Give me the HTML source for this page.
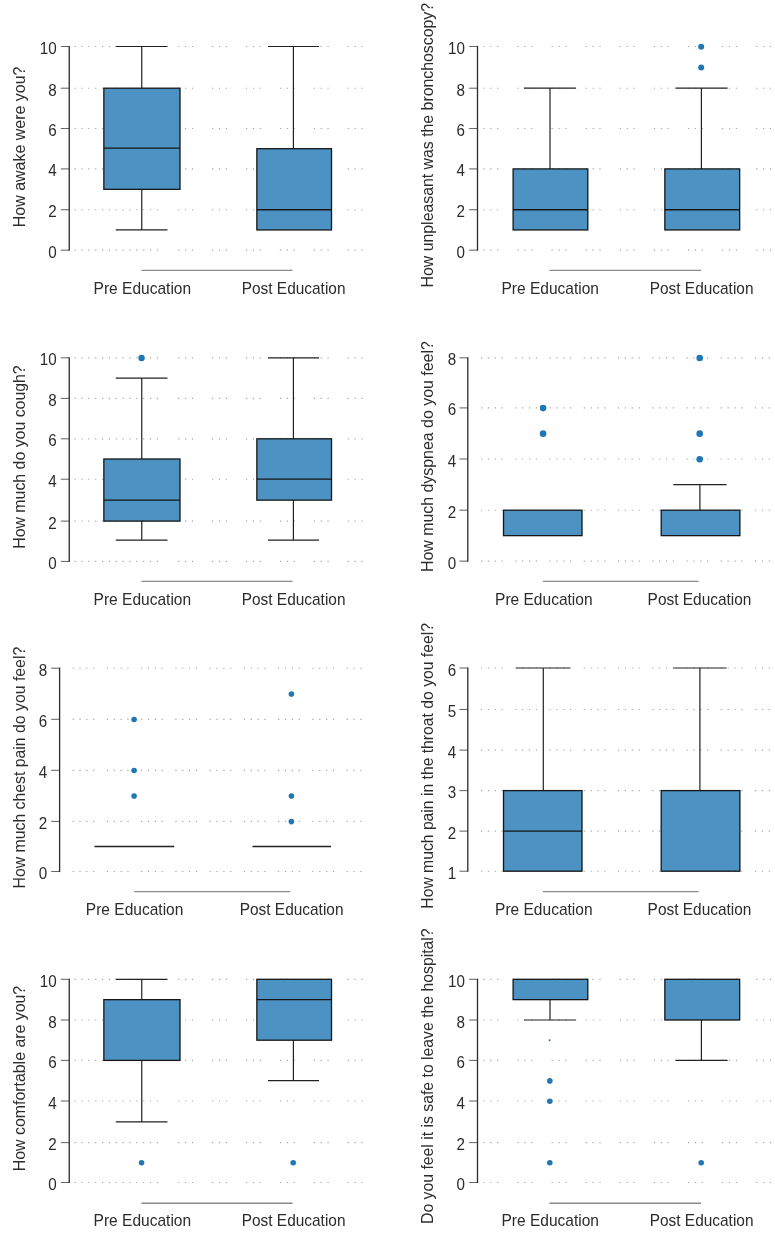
<!DOCTYPE html>
<html lang="en">
<head>
<meta charset="utf-8">
<title>Box plots: Pre Education vs Post Education</title>
<style>
html,body{margin:0;padding:0;background:#fff;}
body{width:775px;height:1239px;overflow:hidden;font-family:"Liberation Sans",Arial,sans-serif;}
svg{display:block;}
</style>
</head>
<body>
<svg width="775" height="1239" viewBox="0 0 775 1239" font-family="'Liberation Sans', Arial, sans-serif" font-size="17.0" fill="#2c2c2c">
<rect width="775" height="1239" fill="#fff"/>
<g>
<g stroke="#a2a2a2" stroke-width="1.15" fill="none">
<line x1="74.6" y1="250.15" x2="160" y2="250.15" stroke-dasharray="1.15 5.7"/>
<line x1="178.2" y1="250.15" x2="365" y2="250.15" stroke-dasharray="1.15 5.7 1.15 5.7 1.15 19.05"/>
<line x1="74.6" y1="209.75" x2="160" y2="209.75" stroke-dasharray="1.15 5.7"/>
<line x1="178.2" y1="209.75" x2="365" y2="209.75" stroke-dasharray="1.15 5.7 1.15 5.7 1.15 19.05"/>
<line x1="74.6" y1="168.9" x2="160" y2="168.9" stroke-dasharray="1.15 5.7"/>
<line x1="178.2" y1="168.9" x2="365" y2="168.9" stroke-dasharray="1.15 5.7 1.15 5.7 1.15 19.05"/>
<line x1="74.6" y1="128.5" x2="160" y2="128.5" stroke-dasharray="1.15 5.7"/>
<line x1="178.2" y1="128.5" x2="365" y2="128.5" stroke-dasharray="1.15 5.7 1.15 5.7 1.15 19.05"/>
<line x1="74.6" y1="88.2" x2="160" y2="88.2" stroke-dasharray="1.15 5.7"/>
<line x1="178.2" y1="88.2" x2="365" y2="88.2" stroke-dasharray="1.15 5.7 1.15 5.7 1.15 19.05"/>
<line x1="74.6" y1="46.5" x2="160" y2="46.5" stroke-dasharray="1.15 5.7"/>
<line x1="178.2" y1="46.5" x2="365" y2="46.5" stroke-dasharray="1.15 5.7 1.15 5.7 1.15 19.05"/>
</g>
<g stroke="#666" stroke-width="1.05" fill="none">
<line x1="60.85" y1="250.15" x2="69.25" y2="250.15"/>
<line x1="60.85" y1="209.75" x2="69.25" y2="209.75"/>
<line x1="60.85" y1="168.9" x2="69.25" y2="168.9"/>
<line x1="60.85" y1="128.5" x2="69.25" y2="128.5"/>
<line x1="60.85" y1="88.2" x2="69.25" y2="88.2"/>
<line x1="60.85" y1="46.5" x2="69.25" y2="46.5"/>
</g>
<line x1="69.25" y1="45.9" x2="69.25" y2="250.75" stroke="#2a2a2a" stroke-width="1.3"/>
<g text-anchor="end">
<text x="56.65" y="257.65" textLength="8.45" lengthAdjust="spacingAndGlyphs">0</text>
<text x="56.65" y="217.25" textLength="8.45" lengthAdjust="spacingAndGlyphs">2</text>
<text x="56.65" y="176.4" textLength="8.45" lengthAdjust="spacingAndGlyphs">4</text>
<text x="56.65" y="136" textLength="8.45" lengthAdjust="spacingAndGlyphs">6</text>
<text x="56.65" y="95.7" textLength="8.45" lengthAdjust="spacingAndGlyphs">8</text>
<text x="56.65" y="54" textLength="16.9" lengthAdjust="spacingAndGlyphs">10</text>
</g>
<text transform="translate(24.9 146.85) rotate(-90)" text-anchor="middle" textLength="160.7" lengthAdjust="spacingAndGlyphs">How awake were you?</text>
<line x1="141.5" y1="270.4" x2="292.5" y2="270.4" stroke="#8a8a8a" stroke-width="1.3"/>
<text x="142.35" y="293.5" text-anchor="middle" textLength="97.5" lengthAdjust="spacingAndGlyphs">Pre Education</text>
<text x="293.6" y="293.5" text-anchor="middle" textLength="103.8" lengthAdjust="spacingAndGlyphs">Post Education</text>
<g stroke="#222" stroke-width="1.2" fill="none">
<path d="M141.75 88.2V46.5M115.75 46.5H167.5"/>
<path d="M141.75 189.32V229.95M115.75 229.95H167.5"/>
<rect x="103.85" y="88.2" width="76.15" height="101.12" fill="#4c92c3" stroke="#161616" stroke-width="1.3"/>
<line x1="103.85" y1="148.09" x2="180" y2="148.09" stroke="#161616" stroke-width="1.3"/>
</g>
<g stroke="#222" stroke-width="1.2" fill="none">
<path d="M293.4 148.7V46.5M268 46.5H319"/>
<rect x="256.85" y="148.7" width="74.65" height="81.25" fill="#4c92c3" stroke="#161616" stroke-width="1.3"/>
<line x1="256.85" y1="209.75" x2="331.5" y2="209.75" stroke="#161616" stroke-width="1.3"/>
</g>
</g>
<g>
<g stroke="#a2a2a2" stroke-width="1.15" fill="none">
<line x1="483.4" y1="250.15" x2="773" y2="250.15" stroke-dasharray="1.15 5.7 1.15 5.7 1.15 19.25"/>
<line x1="483.4" y1="209.75" x2="773" y2="209.75" stroke-dasharray="1.15 5.7 1.15 5.7 1.15 19.25"/>
<line x1="483.4" y1="168.9" x2="773" y2="168.9" stroke-dasharray="1.15 5.7 1.15 5.7 1.15 19.25"/>
<line x1="483.4" y1="128.5" x2="773" y2="128.5" stroke-dasharray="1.15 5.7 1.15 5.7 1.15 19.25"/>
<line x1="483.4" y1="88.2" x2="773" y2="88.2" stroke-dasharray="1.15 5.7 1.15 5.7 1.15 19.25"/>
<line x1="483.4" y1="46.5" x2="773" y2="46.5" stroke-dasharray="1.15 5.7 1.15 5.7 1.15 19.25"/>
</g>
<g stroke="#666" stroke-width="1.05" fill="none">
<line x1="469.1" y1="250.15" x2="477.5" y2="250.15"/>
<line x1="469.1" y1="209.75" x2="477.5" y2="209.75"/>
<line x1="469.1" y1="168.9" x2="477.5" y2="168.9"/>
<line x1="469.1" y1="128.5" x2="477.5" y2="128.5"/>
<line x1="469.1" y1="88.2" x2="477.5" y2="88.2"/>
<line x1="469.1" y1="46.5" x2="477.5" y2="46.5"/>
</g>
<line x1="477.5" y1="45.9" x2="477.5" y2="250.75" stroke="#2a2a2a" stroke-width="1.3"/>
<g text-anchor="end">
<text x="465" y="257.65" textLength="8.45" lengthAdjust="spacingAndGlyphs">0</text>
<text x="465" y="217.25" textLength="8.45" lengthAdjust="spacingAndGlyphs">2</text>
<text x="465" y="176.4" textLength="8.45" lengthAdjust="spacingAndGlyphs">4</text>
<text x="465" y="136" textLength="8.45" lengthAdjust="spacingAndGlyphs">6</text>
<text x="465" y="95.7" textLength="8.45" lengthAdjust="spacingAndGlyphs">8</text>
<text x="465" y="54" textLength="16.9" lengthAdjust="spacingAndGlyphs">10</text>
</g>
<text transform="translate(433.1 145.2) rotate(-90)" text-anchor="middle" textLength="284.4" lengthAdjust="spacingAndGlyphs">How unpleasant was the bronchoscopy?</text>
<line x1="549.5" y1="270.4" x2="701" y2="270.4" stroke="#8a8a8a" stroke-width="1.3"/>
<text x="550.2" y="293.5" text-anchor="middle" textLength="97.5" lengthAdjust="spacingAndGlyphs">Pre Education</text>
<text x="701.6" y="293.5" text-anchor="middle" textLength="103.8" lengthAdjust="spacingAndGlyphs">Post Education</text>
<g stroke="#222" stroke-width="1.2" fill="none">
<path d="M550 168.9V88.2M523.9 88.2H576.1"/>
<rect x="513.1" y="168.9" width="74.7" height="61.05" fill="#4c92c3" stroke="#161616" stroke-width="1.3"/>
<line x1="513.1" y1="209.75" x2="587.8" y2="209.75" stroke="#161616" stroke-width="1.3"/>
</g>
<g stroke="#222" stroke-width="1.2" fill="none">
<path d="M701.4 168.9V88.2M675.4 88.2H727.6"/>
<rect x="664.85" y="168.9" width="74.8" height="61.05" fill="#4c92c3" stroke="#161616" stroke-width="1.3"/>
<line x1="664.85" y1="209.75" x2="739.65" y2="209.75" stroke="#161616" stroke-width="1.3"/>
</g>
<circle cx="701.2" cy="67.55" r="3" fill="#1f77b4"/>
<circle cx="701.2" cy="46.7" r="3" fill="#1f77b4"/>
</g>
<g>
<g stroke="#a2a2a2" stroke-width="1.15" fill="none">
<line x1="74.6" y1="561.4" x2="160" y2="561.4" stroke-dasharray="1.15 5.7"/>
<line x1="178.2" y1="561.4" x2="365" y2="561.4" stroke-dasharray="1.15 5.7 1.15 5.7 1.15 19.05"/>
<line x1="74.6" y1="521.1" x2="160" y2="521.1" stroke-dasharray="1.15 5.7"/>
<line x1="178.2" y1="521.1" x2="365" y2="521.1" stroke-dasharray="1.15 5.7 1.15 5.7 1.15 19.05"/>
<line x1="74.6" y1="479.2" x2="160" y2="479.2" stroke-dasharray="1.15 5.7"/>
<line x1="178.2" y1="479.2" x2="365" y2="479.2" stroke-dasharray="1.15 5.7 1.15 5.7 1.15 19.05"/>
<line x1="74.6" y1="438.8" x2="160" y2="438.8" stroke-dasharray="1.15 5.7"/>
<line x1="178.2" y1="438.8" x2="365" y2="438.8" stroke-dasharray="1.15 5.7 1.15 5.7 1.15 19.05"/>
<line x1="74.6" y1="398.4" x2="160" y2="398.4" stroke-dasharray="1.15 5.7"/>
<line x1="178.2" y1="398.4" x2="365" y2="398.4" stroke-dasharray="1.15 5.7 1.15 5.7 1.15 19.05"/>
<line x1="74.6" y1="357.8" x2="160" y2="357.8" stroke-dasharray="1.15 5.7"/>
<line x1="178.2" y1="357.8" x2="365" y2="357.8" stroke-dasharray="1.15 5.7 1.15 5.7 1.15 19.05"/>
</g>
<g stroke="#666" stroke-width="1.05" fill="none">
<line x1="60.85" y1="561.4" x2="69.25" y2="561.4"/>
<line x1="60.85" y1="521.1" x2="69.25" y2="521.1"/>
<line x1="60.85" y1="479.2" x2="69.25" y2="479.2"/>
<line x1="60.85" y1="438.8" x2="69.25" y2="438.8"/>
<line x1="60.85" y1="398.4" x2="69.25" y2="398.4"/>
<line x1="60.85" y1="357.8" x2="69.25" y2="357.8"/>
</g>
<line x1="69.25" y1="357.2" x2="69.25" y2="562" stroke="#2a2a2a" stroke-width="1.3"/>
<g text-anchor="end">
<text x="56.65" y="568.9" textLength="8.45" lengthAdjust="spacingAndGlyphs">0</text>
<text x="56.65" y="528.6" textLength="8.45" lengthAdjust="spacingAndGlyphs">2</text>
<text x="56.65" y="486.7" textLength="8.45" lengthAdjust="spacingAndGlyphs">4</text>
<text x="56.65" y="446.3" textLength="8.45" lengthAdjust="spacingAndGlyphs">6</text>
<text x="56.65" y="405.9" textLength="8.45" lengthAdjust="spacingAndGlyphs">8</text>
<text x="56.65" y="365.3" textLength="16.9" lengthAdjust="spacingAndGlyphs">10</text>
</g>
<text transform="translate(24.9 457.05) rotate(-90)" text-anchor="middle" textLength="183.5" lengthAdjust="spacingAndGlyphs">How much do you cough?</text>
<line x1="141.5" y1="581.4" x2="292.5" y2="581.4" stroke="#8a8a8a" stroke-width="1.3"/>
<text x="142.35" y="604.6" text-anchor="middle" textLength="97.5" lengthAdjust="spacingAndGlyphs">Pre Education</text>
<text x="293.6" y="604.6" text-anchor="middle" textLength="103.8" lengthAdjust="spacingAndGlyphs">Post Education</text>
<g stroke="#222" stroke-width="1.2" fill="none">
<path d="M141.75 459V378.1M115.75 378.1H167.5"/>
<path d="M141.75 521.1V540.04M115.75 540.04H167.5"/>
<rect x="103.85" y="459" width="76.15" height="62.1" fill="#4c92c3" stroke="#161616" stroke-width="1.3"/>
<line x1="103.85" y1="500.15" x2="180" y2="500.15" stroke="#161616" stroke-width="1.3"/>
</g>
<circle cx="141.55" cy="358" r="3.2" fill="#1f77b4"/>
<g stroke="#222" stroke-width="1.2" fill="none">
<path d="M293.4 438.8V357.8M268 357.8H319"/>
<path d="M293.4 500.15V540.04M268 540.04H319"/>
<rect x="256.85" y="438.8" width="74.65" height="61.35" fill="#4c92c3" stroke="#161616" stroke-width="1.3"/>
<line x1="256.85" y1="479.2" x2="331.5" y2="479.2" stroke="#161616" stroke-width="1.3"/>
</g>
</g>
<g>
<g stroke="#a2a2a2" stroke-width="1.15" fill="none">
<line x1="481" y1="561.1" x2="775" y2="561.1" stroke-dasharray="1.15 5.7 1.15 5.7 1.15 5.7 1.15 12.55"/>
<line x1="481" y1="510.2" x2="775" y2="510.2" stroke-dasharray="1.15 5.7 1.15 5.7 1.15 5.7 1.15 12.55"/>
<line x1="481" y1="459" x2="775" y2="459" stroke-dasharray="1.15 5.7 1.15 5.7 1.15 5.7 1.15 12.55"/>
<line x1="481" y1="407.9" x2="775" y2="407.9" stroke-dasharray="1.15 5.7 1.15 5.7 1.15 5.7 1.15 12.55"/>
<line x1="481" y1="357.8" x2="775" y2="357.8" stroke-dasharray="1.15 5.7 1.15 5.7 1.15 5.7 1.15 12.55"/>
</g>
<g stroke="#666" stroke-width="1.05" fill="none">
<line x1="459.4" y1="561.1" x2="467.8" y2="561.1"/>
<line x1="459.4" y1="510.2" x2="467.8" y2="510.2"/>
<line x1="459.4" y1="459" x2="467.8" y2="459"/>
<line x1="459.4" y1="407.9" x2="467.8" y2="407.9"/>
<line x1="459.4" y1="357.8" x2="467.8" y2="357.8"/>
</g>
<line x1="467.8" y1="357.2" x2="467.8" y2="561.7" stroke="#2a2a2a" stroke-width="1.3"/>
<g text-anchor="end">
<text x="456.2" y="568.6" textLength="8.45" lengthAdjust="spacingAndGlyphs">0</text>
<text x="456.2" y="517.7" textLength="8.45" lengthAdjust="spacingAndGlyphs">2</text>
<text x="456.2" y="466.5" textLength="8.45" lengthAdjust="spacingAndGlyphs">4</text>
<text x="456.2" y="415.4" textLength="8.45" lengthAdjust="spacingAndGlyphs">6</text>
<text x="456.2" y="365.3" textLength="8.45" lengthAdjust="spacingAndGlyphs">8</text>
</g>
<text transform="translate(433 456.65) rotate(-90)" text-anchor="middle" textLength="230.9" lengthAdjust="spacingAndGlyphs">How much dyspnea do you feel?</text>
<line x1="543" y1="581.4" x2="698.5" y2="581.4" stroke="#8a8a8a" stroke-width="1.3"/>
<text x="543.8" y="604.6" text-anchor="middle" textLength="97.5" lengthAdjust="spacingAndGlyphs">Pre Education</text>
<text x="699.5" y="604.6" text-anchor="middle" textLength="103.8" lengthAdjust="spacingAndGlyphs">Post Education</text>
<g stroke="#222" stroke-width="1.2" fill="none">
<rect x="503.5" y="510.2" width="78.5" height="25.45" fill="#4c92c3" stroke="#161616" stroke-width="1.3"/>
</g>
<circle cx="543.1" cy="433.65" r="3.3" fill="#1f77b4"/>
<circle cx="543.1" cy="408.1" r="3.3" fill="#1f77b4"/>
<g stroke="#222" stroke-width="1.2" fill="none">
<path d="M699.9 510.2V484.6M673.3 484.6H726.6"/>
<rect x="661.2" y="510.2" width="78.7" height="25.45" fill="#4c92c3" stroke="#161616" stroke-width="1.3"/>
</g>
<circle cx="699.7" cy="459.2" r="3.3" fill="#1f77b4"/>
<circle cx="699.7" cy="433.65" r="3.3" fill="#1f77b4"/>
<circle cx="699.7" cy="358" r="3.3" fill="#1f77b4"/>
</g>
<g>
<g stroke="#a2a2a2" stroke-width="1.15" fill="none">
<line x1="72.6" y1="871.5" x2="362" y2="871.5" stroke-dasharray="1.15 5.7 1.15 5.7 1.15 5.7 1.15 12.55"/>
<line x1="72.6" y1="821.4" x2="362" y2="821.4" stroke-dasharray="1.15 5.7 1.15 5.7 1.15 5.7 1.15 12.55"/>
<line x1="72.6" y1="770.3" x2="362" y2="770.3" stroke-dasharray="1.15 5.7 1.15 5.7 1.15 5.7 1.15 12.55"/>
<line x1="72.6" y1="719.3" x2="362" y2="719.3" stroke-dasharray="1.15 5.7 1.15 5.7 1.15 5.7 1.15 12.55"/>
<line x1="72.6" y1="668.2" x2="362" y2="668.2" stroke-dasharray="1.15 5.7 1.15 5.7 1.15 5.7 1.15 12.55"/>
</g>
<g stroke="#666" stroke-width="1.05" fill="none">
<line x1="51.2" y1="871.5" x2="59.6" y2="871.5"/>
<line x1="51.2" y1="821.4" x2="59.6" y2="821.4"/>
<line x1="51.2" y1="770.3" x2="59.6" y2="770.3"/>
<line x1="51.2" y1="719.3" x2="59.6" y2="719.3"/>
<line x1="51.2" y1="668.2" x2="59.6" y2="668.2"/>
</g>
<line x1="59.6" y1="667.6" x2="59.6" y2="872.1" stroke="#2a2a2a" stroke-width="1.3"/>
<g text-anchor="end">
<text x="47.3" y="879" textLength="8.45" lengthAdjust="spacingAndGlyphs">0</text>
<text x="47.3" y="828.9" textLength="8.45" lengthAdjust="spacingAndGlyphs">2</text>
<text x="47.3" y="777.8" textLength="8.45" lengthAdjust="spacingAndGlyphs">4</text>
<text x="47.3" y="726.8" textLength="8.45" lengthAdjust="spacingAndGlyphs">6</text>
<text x="47.3" y="675.7" textLength="8.45" lengthAdjust="spacingAndGlyphs">8</text>
</g>
<text transform="translate(24.9 767.65) rotate(-90)" text-anchor="middle" textLength="241.7" lengthAdjust="spacingAndGlyphs">How much chest pain do you feel?</text>
<line x1="134.25" y1="891.7" x2="290.25" y2="891.7" stroke="#8a8a8a" stroke-width="1.3"/>
<text x="134.6" y="914.8" text-anchor="middle" textLength="97.5" lengthAdjust="spacingAndGlyphs">Pre Education</text>
<text x="291.6" y="914.8" text-anchor="middle" textLength="103.8" lengthAdjust="spacingAndGlyphs">Post Education</text>
<g stroke="#222" stroke-width="1.2" fill="none">
<line x1="94.5" y1="846.45" x2="174.25" y2="846.45" stroke-width="1.4"/>
</g>
<circle cx="134.1" cy="796.05" r="2.8" fill="#1f77b4"/>
<circle cx="134.1" cy="770.5" r="2.8" fill="#1f77b4"/>
<circle cx="134.1" cy="719.5" r="2.8" fill="#1f77b4"/>
<g stroke="#222" stroke-width="1.2" fill="none">
<line x1="252.5" y1="846.45" x2="331" y2="846.45" stroke-width="1.4"/>
</g>
<circle cx="291.4" cy="821.6" r="2.8" fill="#1f77b4"/>
<circle cx="291.4" cy="796.05" r="2.8" fill="#1f77b4"/>
<circle cx="291.4" cy="693.95" r="2.8" fill="#1f77b4"/>
</g>
<g>
<g stroke="#a2a2a2" stroke-width="1.15" fill="none">
<line x1="481" y1="871.2" x2="775" y2="871.2" stroke-dasharray="1.15 5.7 1.15 5.7 1.15 5.7 1.15 12.55"/>
<line x1="481" y1="831.1" x2="775" y2="831.1" stroke-dasharray="1.15 5.7 1.15 5.7 1.15 5.7 1.15 12.55"/>
<line x1="481" y1="790.6" x2="775" y2="790.6" stroke-dasharray="1.15 5.7 1.15 5.7 1.15 5.7 1.15 12.55"/>
<line x1="481" y1="750.1" x2="775" y2="750.1" stroke-dasharray="1.15 5.7 1.15 5.7 1.15 5.7 1.15 12.55"/>
<line x1="481" y1="709.45" x2="775" y2="709.45" stroke-dasharray="1.15 5.7 1.15 5.7 1.15 5.7 1.15 12.55"/>
<line x1="481" y1="668" x2="775" y2="668" stroke-dasharray="1.15 5.7 1.15 5.7 1.15 5.7 1.15 12.55"/>
</g>
<g stroke="#666" stroke-width="1.05" fill="none">
<line x1="459.4" y1="871.2" x2="467.8" y2="871.2"/>
<line x1="459.4" y1="831.1" x2="467.8" y2="831.1"/>
<line x1="459.4" y1="790.6" x2="467.8" y2="790.6"/>
<line x1="459.4" y1="750.1" x2="467.8" y2="750.1"/>
<line x1="459.4" y1="709.45" x2="467.8" y2="709.45"/>
<line x1="459.4" y1="668" x2="467.8" y2="668"/>
</g>
<line x1="467.8" y1="667.4" x2="467.8" y2="871.8" stroke="#2a2a2a" stroke-width="1.3"/>
<g text-anchor="end">
<text x="456.2" y="878.7" textLength="8.45" lengthAdjust="spacingAndGlyphs">1</text>
<text x="456.2" y="838.6" textLength="8.45" lengthAdjust="spacingAndGlyphs">2</text>
<text x="456.2" y="798.1" textLength="8.45" lengthAdjust="spacingAndGlyphs">3</text>
<text x="456.2" y="757.6" textLength="8.45" lengthAdjust="spacingAndGlyphs">4</text>
<text x="456.2" y="716.95" textLength="8.45" lengthAdjust="spacingAndGlyphs">5</text>
<text x="456.2" y="675.5" textLength="8.45" lengthAdjust="spacingAndGlyphs">6</text>
</g>
<text transform="translate(433 765.9) rotate(-90)" text-anchor="middle" textLength="285.6" lengthAdjust="spacingAndGlyphs">How much pain in the throat do you feel?</text>
<line x1="543" y1="891.7" x2="698.5" y2="891.7" stroke="#8a8a8a" stroke-width="1.3"/>
<text x="543.8" y="914.8" text-anchor="middle" textLength="97.5" lengthAdjust="spacingAndGlyphs">Pre Education</text>
<text x="699.5" y="914.8" text-anchor="middle" textLength="103.8" lengthAdjust="spacingAndGlyphs">Post Education</text>
<g stroke="#222" stroke-width="1.2" fill="none">
<path d="M543.3 790.6V668M516 668H570"/>
<rect x="503.5" y="790.6" width="78.5" height="80.6" fill="#4c92c3" stroke="#161616" stroke-width="1.3"/>
<line x1="503.5" y1="831.1" x2="582" y2="831.1" stroke="#161616" stroke-width="1.3"/>
</g>
<g stroke="#222" stroke-width="1.2" fill="none">
<path d="M699.9 790.6V668M673.3 668H726.6"/>
<rect x="661.2" y="790.6" width="78.7" height="80.6" fill="#4c92c3" stroke="#161616" stroke-width="1.3"/>
</g>
</g>
<g>
<g stroke="#a2a2a2" stroke-width="1.15" fill="none">
<line x1="74.6" y1="1182.5" x2="160" y2="1182.5" stroke-dasharray="1.15 5.7"/>
<line x1="178.2" y1="1182.5" x2="365" y2="1182.5" stroke-dasharray="1.15 5.7 1.15 5.7 1.15 19.05"/>
<line x1="74.6" y1="1142.6" x2="160" y2="1142.6" stroke-dasharray="1.15 5.7"/>
<line x1="178.2" y1="1142.6" x2="365" y2="1142.6" stroke-dasharray="1.15 5.7 1.15 5.7 1.15 19.05"/>
<line x1="74.6" y1="1101" x2="160" y2="1101" stroke-dasharray="1.15 5.7"/>
<line x1="178.2" y1="1101" x2="365" y2="1101" stroke-dasharray="1.15 5.7 1.15 5.7 1.15 19.05"/>
<line x1="74.6" y1="1060.4" x2="160" y2="1060.4" stroke-dasharray="1.15 5.7"/>
<line x1="178.2" y1="1060.4" x2="365" y2="1060.4" stroke-dasharray="1.15 5.7 1.15 5.7 1.15 19.05"/>
<line x1="74.6" y1="1020" x2="160" y2="1020" stroke-dasharray="1.15 5.7"/>
<line x1="178.2" y1="1020" x2="365" y2="1020" stroke-dasharray="1.15 5.7 1.15 5.7 1.15 19.05"/>
<line x1="74.6" y1="979.3" x2="160" y2="979.3" stroke-dasharray="1.15 5.7"/>
<line x1="178.2" y1="979.3" x2="365" y2="979.3" stroke-dasharray="1.15 5.7 1.15 5.7 1.15 19.05"/>
</g>
<g stroke="#666" stroke-width="1.05" fill="none">
<line x1="60.85" y1="1182.5" x2="69.25" y2="1182.5"/>
<line x1="60.85" y1="1142.6" x2="69.25" y2="1142.6"/>
<line x1="60.85" y1="1101" x2="69.25" y2="1101"/>
<line x1="60.85" y1="1060.4" x2="69.25" y2="1060.4"/>
<line x1="60.85" y1="1020" x2="69.25" y2="1020"/>
<line x1="60.85" y1="979.3" x2="69.25" y2="979.3"/>
</g>
<line x1="69.25" y1="978.7" x2="69.25" y2="1183.1" stroke="#2a2a2a" stroke-width="1.3"/>
<g text-anchor="end">
<text x="56.65" y="1190" textLength="8.45" lengthAdjust="spacingAndGlyphs">0</text>
<text x="56.65" y="1150.1" textLength="8.45" lengthAdjust="spacingAndGlyphs">2</text>
<text x="56.65" y="1108.5" textLength="8.45" lengthAdjust="spacingAndGlyphs">4</text>
<text x="56.65" y="1067.9" textLength="8.45" lengthAdjust="spacingAndGlyphs">6</text>
<text x="56.65" y="1027.5" textLength="8.45" lengthAdjust="spacingAndGlyphs">8</text>
<text x="56.65" y="986.8" textLength="16.9" lengthAdjust="spacingAndGlyphs">10</text>
</g>
<text transform="translate(24.9 1078.5) rotate(-90)" text-anchor="middle" textLength="185.4" lengthAdjust="spacingAndGlyphs">How comfortable are you?</text>
<line x1="141.5" y1="1203.25" x2="292.5" y2="1203.25" stroke="#8a8a8a" stroke-width="1.3"/>
<text x="142.35" y="1225.7" text-anchor="middle" textLength="97.5" lengthAdjust="spacingAndGlyphs">Pre Education</text>
<text x="293.6" y="1225.7" text-anchor="middle" textLength="103.8" lengthAdjust="spacingAndGlyphs">Post Education</text>
<g stroke="#222" stroke-width="1.2" fill="none">
<path d="M141.75 999.65V979.3M115.75 979.3H167.5"/>
<path d="M141.75 1060.4V1121.8M115.75 1121.8H167.5"/>
<rect x="103.85" y="999.65" width="76.15" height="60.75" fill="#4c92c3" stroke="#161616" stroke-width="1.3"/>
</g>
<circle cx="141.55" cy="1162.75" r="2.8" fill="#1f77b4"/>
<g stroke="#222" stroke-width="1.2" fill="none">
<path d="M293.4 1040.2V1080.7M268 1080.7H319"/>
<rect x="256.85" y="979.3" width="74.65" height="60.9" fill="#4c92c3" stroke="#161616" stroke-width="1.3"/>
<line x1="256.85" y1="999.65" x2="331.5" y2="999.65" stroke="#161616" stroke-width="1.3"/>
</g>
<circle cx="293.2" cy="1162.75" r="2.8" fill="#1f77b4"/>
</g>
<g>
<g stroke="#a2a2a2" stroke-width="1.15" fill="none">
<line x1="483.4" y1="1182.5" x2="773" y2="1182.5" stroke-dasharray="1.15 5.7 1.15 5.7 1.15 19.25"/>
<line x1="483.4" y1="1142.6" x2="773" y2="1142.6" stroke-dasharray="1.15 5.7 1.15 5.7 1.15 19.25"/>
<line x1="483.4" y1="1101" x2="773" y2="1101" stroke-dasharray="1.15 5.7 1.15 5.7 1.15 19.25"/>
<line x1="483.4" y1="1060.4" x2="773" y2="1060.4" stroke-dasharray="1.15 5.7 1.15 5.7 1.15 19.25"/>
<line x1="483.4" y1="1020" x2="773" y2="1020" stroke-dasharray="1.15 5.7 1.15 5.7 1.15 19.25"/>
<line x1="483.4" y1="979.3" x2="773" y2="979.3" stroke-dasharray="1.15 5.7 1.15 5.7 1.15 19.25"/>
</g>
<g stroke="#666" stroke-width="1.05" fill="none">
<line x1="469.1" y1="1182.5" x2="477.5" y2="1182.5"/>
<line x1="469.1" y1="1142.6" x2="477.5" y2="1142.6"/>
<line x1="469.1" y1="1101" x2="477.5" y2="1101"/>
<line x1="469.1" y1="1060.4" x2="477.5" y2="1060.4"/>
<line x1="469.1" y1="1020" x2="477.5" y2="1020"/>
<line x1="469.1" y1="979.3" x2="477.5" y2="979.3"/>
</g>
<line x1="477.5" y1="978.7" x2="477.5" y2="1183.1" stroke="#2a2a2a" stroke-width="1.3"/>
<g text-anchor="end">
<text x="465" y="1190" textLength="8.45" lengthAdjust="spacingAndGlyphs">0</text>
<text x="465" y="1150.1" textLength="8.45" lengthAdjust="spacingAndGlyphs">2</text>
<text x="465" y="1108.5" textLength="8.45" lengthAdjust="spacingAndGlyphs">4</text>
<text x="465" y="1067.9" textLength="8.45" lengthAdjust="spacingAndGlyphs">6</text>
<text x="465" y="1027.5" textLength="8.45" lengthAdjust="spacingAndGlyphs">8</text>
<text x="465" y="986.8" textLength="16.9" lengthAdjust="spacingAndGlyphs">10</text>
</g>
<text transform="translate(433.1 1076.17) rotate(-90)" text-anchor="middle" textLength="295.55" lengthAdjust="spacingAndGlyphs">Do you feel it is safe to leave the hospital?</text>
<line x1="549.5" y1="1203.25" x2="701" y2="1203.25" stroke="#8a8a8a" stroke-width="1.3"/>
<text x="550.2" y="1225.7" text-anchor="middle" textLength="97.5" lengthAdjust="spacingAndGlyphs">Pre Education</text>
<text x="701.6" y="1225.7" text-anchor="middle" textLength="103.8" lengthAdjust="spacingAndGlyphs">Post Education</text>
<g stroke="#222" stroke-width="1.2" fill="none">
<path d="M550 999.65V1020M523.9 1020H576.1"/>
<rect x="513.1" y="979.3" width="74.7" height="20.35" fill="#4c92c3" stroke="#161616" stroke-width="1.3"/>
</g>
<circle cx="549.8" cy="1162.75" r="2.8" fill="#1f77b4"/>
<circle cx="549.8" cy="1101.2" r="2.8" fill="#1f77b4"/>
<circle cx="549.8" cy="1080.9" r="2.8" fill="#1f77b4"/>
<circle cx="549.6" cy="1040.2" r="1" fill="#1f77b4"/>
<g stroke="#222" stroke-width="1.2" fill="none">
<path d="M701.4 1020V1060.4M675.4 1060.4H727.6"/>
<rect x="664.85" y="979.3" width="74.8" height="40.7" fill="#4c92c3" stroke="#161616" stroke-width="1.3"/>
</g>
<circle cx="701.2" cy="1162.75" r="2.8" fill="#1f77b4"/>
</g>
</svg>
</body>
</html>
